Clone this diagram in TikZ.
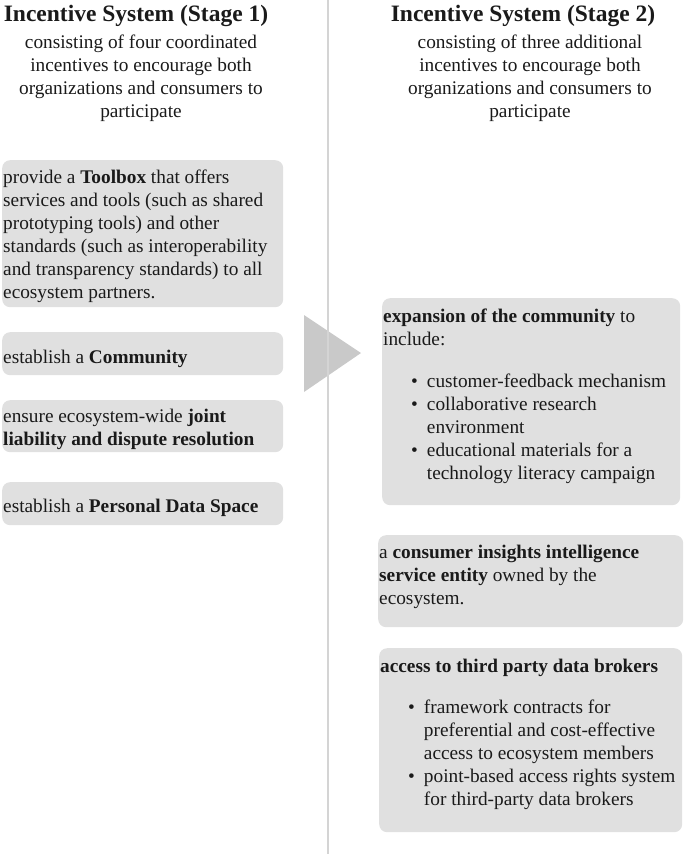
\documentclass[tikz,border=0pt]{standalone}
\usepackage{fontspec}
\setmainfont{Liberation Serif}
\usepackage{tikz}
\definecolor{boxgray}{RGB}{224,224,224}
\definecolor{arrowgray}{RGB}{201,201,201}
\definecolor{rulegray}{RGB}{212,212,212}
\definecolor{ink}{RGB}{26,26,26}
\newcommand{\bodyfont}{\fontsize{19.3}{23}\selectfont}
\newcommand{\headfont}{\fontsize{23.5}{26}\selectfont\bfseries}
% block of lines whose base is the first line
\newcommand{\lines}[1]{\begin{tabular}[t]{@{}l@{}}#1\end{tabular}}
\newcommand{\clines}[1]{\begin{tabular}[t]{@{}c@{}}#1\end{tabular}}
\newcommand{\bullets}[1]{\begin{tabular}[t]{@{}l@{\hspace{9pt}}l@{}}#1\end{tabular}}

\begin{document}
\begin{tikzpicture}[x=1pt,y=-1pt,text=ink,
  panel/.style={fill=boxgray,rounded corners=8pt,inner sep=0pt,anchor=north west},
  txt/.style={anchor=base west,inner sep=0pt,font=\bodyfont},
  head/.style={anchor=base,inner sep=0pt,font=\headfont},
  sub/.style={anchor=base,inner sep=0pt,font=\bodyfont}]
% page frame, pixel units, y grows downwards
\useasboundingbox[fill=white] (0,0) rectangle (685,854);
% --- column titles ---
\node[head] (head1) at (136,21) {Incentive System (Stage 1)};
\node[sub] (sub1) at (141,48) {\clines{consisting of four coordinated\\incentives to encourage both\\organizations and consumers to\\participate}};
\node[head] (head2) at (523,21) {Incentive System (Stage 2)};
\node[sub] (sub2) at (530,48) {\clines{consisting of three additional\\incentives to encourage both\\organizations and consumers to\\participate}};
% --- stage 1 panels ---
\node[panel,minimum width=281pt,minimum height=147pt] (toolbox) at (2,160) {};
\node[txt] (toolboxtxt) at (3,183) {\lines{provide a \textbf{Toolbox} that offers\\services and tools (such as shared\\prototyping tools) and other\\standards (such as interoperability\\and transparency standards) to all\\ecosystem partners.}};
\node[panel,minimum width=281pt,minimum height=43pt] (community) at (2,332) {};
\node[txt] (communitytxt) at (3,363) {establish a \textbf{Community}};
\node[panel,minimum width=281pt,minimum height=52pt] (liability) at (2,400) {};
\node[txt] (liabilitytxt) at (3,422) {\lines{ensure ecosystem-wide \textbf{joint}\\\textbf{liability and dispute resolution}}};
\node[panel,minimum width=281pt,minimum height=43pt] (dataspace) at (2,482) {};
\node[txt] (dataspacetxt) at (3,512) {establish a \textbf{Personal Data Space}};
% --- divider and stage arrow ---
\coordinate (divtop) at (328,0);
\coordinate (divbot) at (328,854);
\coordinate (tri1) at (304,315);
\coordinate (tri2) at (361,353);
\coordinate (tri3) at (304,392);
\fill[arrowgray] (tri1) -- (tri2) -- (tri3) -- cycle;
\draw[rulegray,line width=1.2pt] (divtop) -- (divbot);
% --- stage 2 panels ---
\node[panel,minimum width=298pt,minimum height=207pt] (expansion) at (382,298) {};
\node[txt] (expansiontxt) at (383,322) {\lines{\textbf{expansion of the community} to\\include:}};
\node[txt] (expansionlist) at (411,387) {\bullets{
  \textbullet & customer-feedback mechanism\\
  \textbullet & collaborative research\\
              & environment\\
  \textbullet & educational materials for a\\
              & technology literacy campaign}};
\node[panel,minimum width=305pt,minimum height=92pt] (insights) at (378,535) {};
\node[txt] (insightstxt) at (379,558) {\lines{a \textbf{consumer insights intelligence}\\\textbf{service entity} owned by the\\ecosystem.}};
\node[panel,minimum width=303pt,minimum height=184pt] (brokers) at (379,648) {};
\node[txt] (brokerstxt) at (380,672) {\textbf{access to third party data brokers}};
\node[txt] (brokerslist) at (408,713) {\bullets{
  \textbullet & framework contracts for\\
              & preferential and cost-effective\\
              & access to ecosystem members\\
  \textbullet & point-based access rights system\\
              & for third-party data brokers}};
\end{tikzpicture}
\end{document}
